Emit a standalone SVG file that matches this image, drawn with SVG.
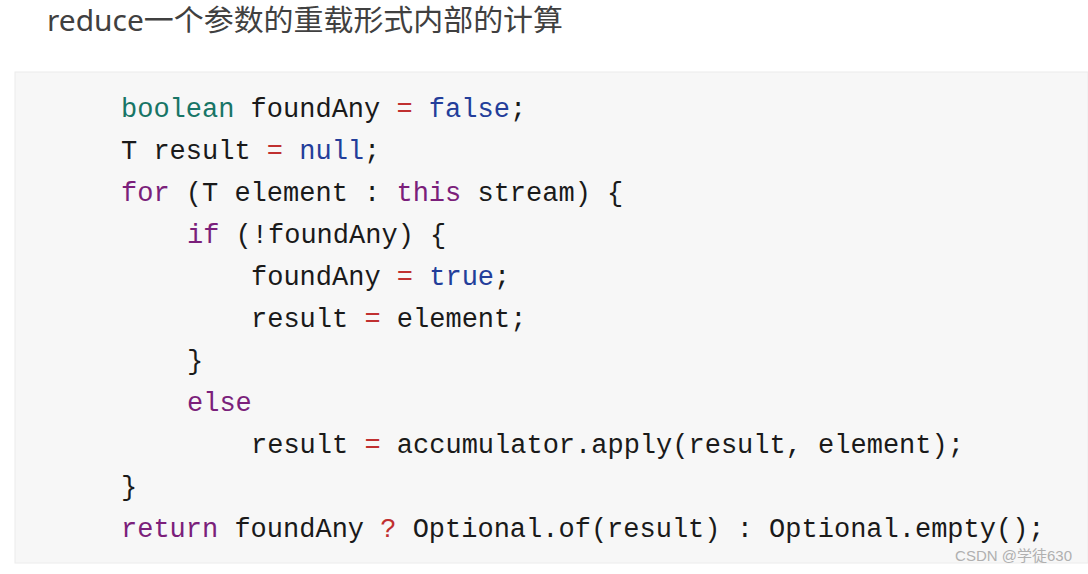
<svg xmlns="http://www.w3.org/2000/svg" width="1088" height="574" viewBox="0 0 1088 574">
<style>
.c{font-family:"Liberation Mono","DejaVu Sans Mono",monospace;font-size:27px;fill:#1a1a1a;white-space:pre}
.k{fill:#7b1f7b}.t{fill:#187566}.v{fill:#233e9a}.o{fill:#c03030}
</style>
<rect width="1088" height="574" fill="#fff"/>
<g id="title"><text x="47" y="31" textLength="516" lengthAdjust="spacingAndGlyphs" font-family="'Noto Sans','Noto Sans CJK SC',sans-serif" font-size="29" fill="#404040">reduce一个参数的重载形式内部的计算</text></g>
<g id="codebox">
<rect x="15" y="72" width="1073" height="491" fill="#f7f7f7" stroke="#ececec"/>
<text class="c" x="121" y="117"><tspan class="t">boolean</tspan> foundAny <tspan class="o">=</tspan> <tspan class="v">false</tspan>;</text>
<text class="c" x="121" y="159">T result <tspan class="o">=</tspan> <tspan class="v">null</tspan>;</text>
<text class="c" x="121" y="201"><tspan class="k">for</tspan> (T element : <tspan class="k">this</tspan> stream) {</text>
<text class="c" x="187" y="243"><tspan class="k">if</tspan> (!foundAny) {</text>
<text class="c" x="251" y="285">foundAny <tspan class="o">=</tspan> <tspan class="v">true</tspan>;</text>
<text class="c" x="251" y="327">result <tspan class="o">=</tspan> element;</text>
<text class="c" x="187" y="369">}</text>
<text class="c k" x="187" y="411">else</text>
<text class="c" x="251" y="453">result <tspan class="o">=</tspan> accumulator.apply(result, element);</text>
<text class="c" x="121" y="495">}</text>
<text class="c" x="121" y="537"><tspan class="k">return</tspan> foundAny <tspan class="o">?</tspan> Optional.of(result) : Optional.empty();</text>
<text x="1072" y="561" text-anchor="end" font-family="'Liberation Sans','Noto Sans CJK SC',sans-serif" font-size="15" fill="#b0b0b0">CSDN @学徒630</text>
</g>
</svg>
